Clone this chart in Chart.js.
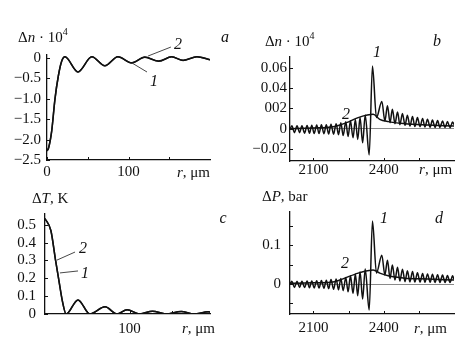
<!DOCTYPE html>
<html>
<head>
<meta charset="utf-8">
<script src="https://cdn.jsdelivr.net/npm/chart.js@4.4.0/dist/chart.umd.min.js"></script>
<style>
html, body { margin: 0; padding: 0; background: #fff; }
#wrap { position: relative; width: 474px; height: 347px; }
#wrap canvas { position: absolute; left: 0; top: 0; }
</style>
</head>
<body>
<div id="wrap">
  <canvas id="pa" width="474" height="347"></canvas>
  <canvas id="pb" width="474" height="347"></canvas>
  <canvas id="pc" width="474" height="347"></canvas>
  <canvas id="pd" width="474" height="347"></canvas>
</div>
<script>
// ---- a: refractive index change near the axis, r in um ----
var aR  = [0, 2, 5.7, 9.8, 13.9, 18, 22, 38, 55, 71, 87, 104, 120, 137, 153, 167, 184, 200];
var aN1 = [-2.28, -2.2, -1.8, -1.0, -0.44, -0.08, 0.03, -0.34, 0.03, -0.19, 0.03, -0.12, 0.02, -0.08, 0.03, -0.06, 0.03, -0.04];
var aN2 = [-2.28, -2.2, -1.8, -1.0, -0.44, -0.08, 0.03, -0.34, 0.03, -0.19, 0.03, -0.115, 0.025, -0.075, 0.03, -0.055, 0.03, -0.04];
var aXTicks = [0, 50, 100, 150];
var aXLabels = ['0', '', '100', ''];
var aYTicks = [-2.5, -2, -1.5, -1, -0.5, 0];
var aYLabels = ['\u22122.5', '\u22122.0', '\u22121.5', '\u22121.0', '\u22120.5', '0'];

// ---- c: temperature change near the axis ----
var cR  = [0, 7, 12.5, 16.5, 20.5, 25, 39, 53, 71, 85, 97, 112, 127, 143, 161, 176, 193, 195];
var cT1 = [0.535, 0.466, 0.30, 0.185, 0.073, 0, 0.079, 0, 0.04, 0, 0.024, 0, 0.016, 0, 0.014, 0, 0.012, 0.011];
var cT2 = [0.535, 0.466, 0.30, 0.186, 0.074, 0, 0.079, 0, 0.04, 0, 0.024, 0, 0.016, 0, 0.014, 0, 0.012, 0.011];
var cXTicks = [50, 100, 150];
var cXLabels = ['', '100', ''];
var cYTicks = [0, 0.1, 0.2, 0.3, 0.4, 0.5];
var cYLabels = ['0', '0.1', '0.2', '0.3', '0.4', '0.5'];

// ---- b, d: the front region, curve 1 (oscillating) ----
var fR = [2000, 2008, 2019, 2030, 2041, 2051, 2062, 2073, 2083, 2093, 2103, 2114, 2124, 2134, 2145,
          2155, 2165, 2175, 2186, 2197, 2207, 2217, 2227, 2238, 2248, 2258, 2269, 2279, 2289, 2299,
          2310, 2321, 2338, 2352, 2369, 2392, 2405, 2416, 2427, 2437, 2448, 2459, 2469, 2480, 2491,
          2501, 2512, 2523, 2533, 2544, 2555, 2566, 2576, 2587, 2598, 2608, 2619, 2630, 2640, 2651,
          2662, 2672, 2683, 2694, 2700];
var bN1 = [-0.001, 0.003, -0.004, 0.003, -0.004, 0.003, -0.0045, 0.0032, -0.0045, 0.0034, -0.0047, 0.0036, -0.0048, 0.0038, -0.005,
           0.004, -0.0052, 0.0045, -0.0056, 0.005, -0.006, 0.006, -0.0068, 0.0068, -0.0078, 0.0078, -0.009, 0.009, -0.0107, 0.011,
           -0.014, 0.0136, -0.026, 0.062, 0.011, 0.027, 0.0076, 0.0227, 0.006, 0.0193, 0.005, 0.0166, 0.004, 0.015, 0.0033,
           0.0133, 0.0026, 0.012, 0.0022, 0.011, 0.002, 0.010, 0.0017, 0.0093, 0.0015, 0.0086, 0.0013, 0.008, 0.0012, 0.0075,
           0.0011, 0.007, 0.001, 0.0066, 0.004];
var dP1 = [0, 0.007, -0.009, 0.007, -0.009, 0.0072, -0.0092, 0.0075, -0.0095, 0.008, -0.010, 0.0085, -0.0105, 0.009, -0.011,
           0.010, -0.012, 0.0115, -0.0135, 0.013, -0.015, 0.0145, -0.017, 0.017, -0.02, 0.021, -0.024, 0.0256, -0.03, 0.0316,
           -0.0386, 0.0383, -0.067, 0.162, 0.028, 0.074, 0.023, 0.061, 0.0145, 0.049, 0.0103, 0.043, 0.0077, 0.038, 0.006,
           0.034, 0.0055, 0.032, 0.005, 0.029, 0.0048, 0.027, 0.0045, 0.026, 0.0043, 0.025, 0.0042, 0.024, 0.004, 0.023,
           0.004, 0.022, 0.004, 0.021, 0.012];

// curve 2 (smooth)
var sR  = [2000, 2100, 2176, 2210, 2241, 2291, 2330, 2355, 2383, 2419, 2490, 2590, 2700];
var bN2 = [0, 0.0008, 0.0017, 0.0035, 0.006, 0.011, 0.0135, 0.0143, 0.0093, 0.007, 0.005, 0.0037, 0.0026];
var dP2 = [0.0017, 0.003, 0.0043, 0.0095, 0.017, 0.028, 0.034, 0.036, 0.028, 0.021, 0.015, 0.013, 0.0103];

var fXTicks = [2100, 2250, 2400, 2550];
var fXLabels = ['2100', '', '2400', ''];
var bYTicks = [-0.02, 0, 0.02, 0.04, 0.06];
var bYLabels = ['\u22120.02', '0', '002', '0.04', '0.06'];
var dYTicks = [-0.05, 0, 0.05, 0.1, 0.15];
var dYLabels = ['', '0', '', '0.1', ''];

var SERIF = '"Liberation Serif", "Times New Roman", "DejaVu Serif", serif';
var INK = '#111';
var FS = 15;

var titleN = [{ t: '\u0394' }, { t: 'n', it: 1 }, { t: ' \u00b7 10' }, { t: '4', sup: 1 }];
var titleT = [{ t: '\u0394' }, { t: 'T', it: 1 }, { t: ', K' }];
var titleP = [{ t: '\u0394' }, { t: 'P', it: 1 }, { t: ', bar' }];
var axisR  = [{ t: 'r', it: 1 }, { t: ', \u03bcm' }];
function it(s) { return [{ t: s, it: 1 }]; }

function richText(ctx, parts, x, y, size, align) {
  var fonts = parts.map(function (p) {
    return (p.it ? 'italic ' : '') + (p.sup ? Math.round(size * 0.68) : size) + 'px ' + SERIF;
  });
  var widths = parts.map(function (p, i) { ctx.font = fonts[i]; return ctx.measureText(p.t).width; });
  var total = widths.reduce(function (a, b) { return a + b; }, 0);
  var cx = align === 'center' ? x - total / 2 : x;
  ctx.textAlign = 'left';
  ctx.textBaseline = 'middle';
  ctx.fillStyle = INK;
  parts.forEach(function (p, i) {
    ctx.font = fonts[i];
    ctx.fillText(p.t, cx, p.sup ? y - size * 0.38 : y);
    cx += widths[i];
  });
}

// inward tick marks, leader lines and the text placed in data units
function decor(spec) {
  return {
    id: 'decor',
    afterDraw: function (chart) {
      var ctx = chart.ctx, xs = chart.scales.x, ys = chart.scales.y;
      var X = function (v) { return xs.getPixelForValue(v); };
      var Y = function (v) { return ys.getPixelForValue(v); };
      ctx.save();
      ctx.strokeStyle = INK;
      ctx.lineWidth = 1;
      ys.ticks.forEach(function (t) {
        var py = Math.round(Y(t.value)) + 0.5;
        ctx.beginPath(); ctx.moveTo(xs.left, py); ctx.lineTo(xs.left + 3, py); ctx.stroke();
      });
      xs.ticks.forEach(function (t) {
        var px = Math.round(X(t.value)) + 0.5;
        ctx.beginPath(); ctx.moveTo(px, ys.bottom); ctx.lineTo(px, ys.bottom - 3); ctx.stroke();
      });
      ctx.strokeStyle = '#333';
      ctx.lineWidth = 0.9;
      (spec.leaders || []).forEach(function (l) {
        ctx.beginPath(); ctx.moveTo(X(l[0]), Y(l[1])); ctx.lineTo(X(l[2]), Y(l[3])); ctx.stroke();
      });
      (spec.texts || []).forEach(function (t) {
        richText(ctx, t.parts, X(t.at[0]), Y(t.at[1]), t.size || FS, t.align || 'left');
      });
      ctx.restore();
    }
  };
}

function series(r, v) {
  return {
    data: r.map(function (x, i) { return { x: x, y: v[i] }; }),
    borderColor: INK,
    borderWidth: 1.5,
    pointRadius: 0,
    tension: 0.4,
    cubicInterpolationMode: 'monotone',
    fill: false
  };
}

var YW = 40, XH = 30;

function panel(p) {
  var lbl = function (list) { return function (v, i) { return list[i]; }; };
  var fix = function (list) { return function (s) { s.ticks = list.map(function (v) { return { value: v }; }); }; };
  new Chart(document.getElementById(p.id), {
    type: 'line',
    data: { datasets: p.series.map(function (s) { return series(s[0], s[1]); }) },
    options: {
      responsive: false,
      animation: false,
      events: [],
      layout: { padding: { left: p.box.l - YW, top: p.box.t, right: 474 - p.box.r, bottom: 347 - p.box.b - XH } },
      plugins: { legend: { display: false }, tooltip: { enabled: false } },
      scales: {
        x: {
          type: 'linear', min: p.x.min, max: p.x.max,
          afterBuildTicks: fix(p.x.ticks),
          afterFit: function (s) { s.height = XH; },
          border: { display: true, color: INK, width: 1.3 },
          grid: { display: false, drawTicks: false },
          ticks: { callback: lbl(p.x.labels), autoSkip: false, maxRotation: 0, padding: p.x.pad, color: INK,
                   font: { family: SERIF, size: FS } }
        },
        y: {
          type: 'linear', min: p.y.min, max: p.y.max,
          afterBuildTicks: fix(p.y.ticks),
          afterFit: function (s) { s.width = YW; },
          border: { display: true, color: INK, width: 1.3 },
          grid: {
            display: !!p.zero, drawTicks: false, lineWidth: 1,
            color: function (c) { return c.tick && c.tick.value === 0 ? '#8a8a8a' : 'rgba(0,0,0,0)'; }
          },
          ticks: { callback: lbl(p.y.labels), autoSkip: false, padding: p.y.pad, color: INK,
                   font: { family: SERIF, size: FS } }
        }
      }
    },
    plugins: [decor(p)]
  });
}

panel({
  id: 'pa', box: { l: 47, t: 55, r: 210, b: 160 },
  x: { min: 0, max: 200, ticks: aXTicks, labels: aXLabels, pad: 3 },
  y: { min: -2.5, max: 0.075, ticks: aYTicks, labels: aYLabels, pad: 6 },
  series: [[aR, aN2], [aR, aN1]],
  leaders: [[152, 0.27, 124, 0.05], [122.7, -0.342, 104.3, -0.121]],
  texts: [
    { at: [-35.6, 0.49], parts: titleN },
    { at: [218.4, 0.49], parts: it('a'), size: 16, align: 'center' },
    { at: [160.7, 0.32], parts: it('2'), size: 16, align: 'center' },
    { at: [131.3, -0.587], parts: it('1'), size: 16, align: 'center' },
    { at: [159.5, -2.818], parts: axisR }
  ]
});

panel({
  id: 'pb', box: { l: 290, t: 57, r: 454, b: 161 }, zero: true,
  x: { min: 2000, max: 2700, ticks: fXTicks, labels: fXLabels, pad: 0 },
  y: { min: -0.032, max: 0.071, ticks: bYTicks, labels: bYLabels, pad: 3 },
  series: [[sR, bN2], [fR, bN1]],
  texts: [
    { at: [1893, 0.0859], parts: titleN },
    { at: [2627, 0.0859], parts: it('b'), size: 16, align: 'center' },
    { at: [2371, 0.075], parts: it('1'), size: 16, align: 'center' },
    { at: [2239, 0.0136], parts: it('2'), size: 16, align: 'center' },
    { at: [2551, -0.0409], parts: axisR }
  ]
});

panel({
  id: 'pc', box: { l: 45, t: 214, r: 210, b: 314 },
  x: { min: 0, max: 195, ticks: cXTicks, labels: cXLabels, pad: 6 },
  y: { min: 0, max: 0.56, ticks: cYTicks, labels: cYLabels, pad: 9 },
  series: [[cR, cT2], [cR, cT1]],
  leaders: [[35.5, 0.347, 14.2, 0.302], [39, 0.241, 17.7, 0.23]],
  texts: [
    { at: [-15.4, 0.644], parts: titleT },
    { at: [210.4, 0.532], parts: it('c'), size: 16, align: 'center' },
    { at: [44.9, 0.364], parts: it('2'), size: 16, align: 'center' },
    { at: [47.3, 0.224], parts: it('1'), size: 16, align: 'center' },
    { at: [161.9, -0.084], parts: axisR }
  ]
});

panel({
  id: 'pd', box: { l: 290, t: 212, r: 454, b: 314 }, zero: true,
  x: { min: 2000, max: 2700, ticks: fXTicks, labels: fXLabels, pad: 5 },
  y: { min: -0.077, max: 0.185, ticks: dYTicks, labels: dYLabels, pad: 9 },
  series: [[sR, dP2], [fR, dP1]],
  texts: [
    { at: [1880.5, 0.2235], parts: titleP },
    { at: [2636, 0.167], parts: it('d'), size: 16, align: 'center' },
    { at: [2401, 0.167], parts: it('1'), size: 16, align: 'center' },
    { at: [2234.7, 0.0514], parts: it('2'), size: 16, align: 'center' },
    { at: [2529, -0.1155], parts: axisR }
  ]
});
</script>
</body>
</html>
